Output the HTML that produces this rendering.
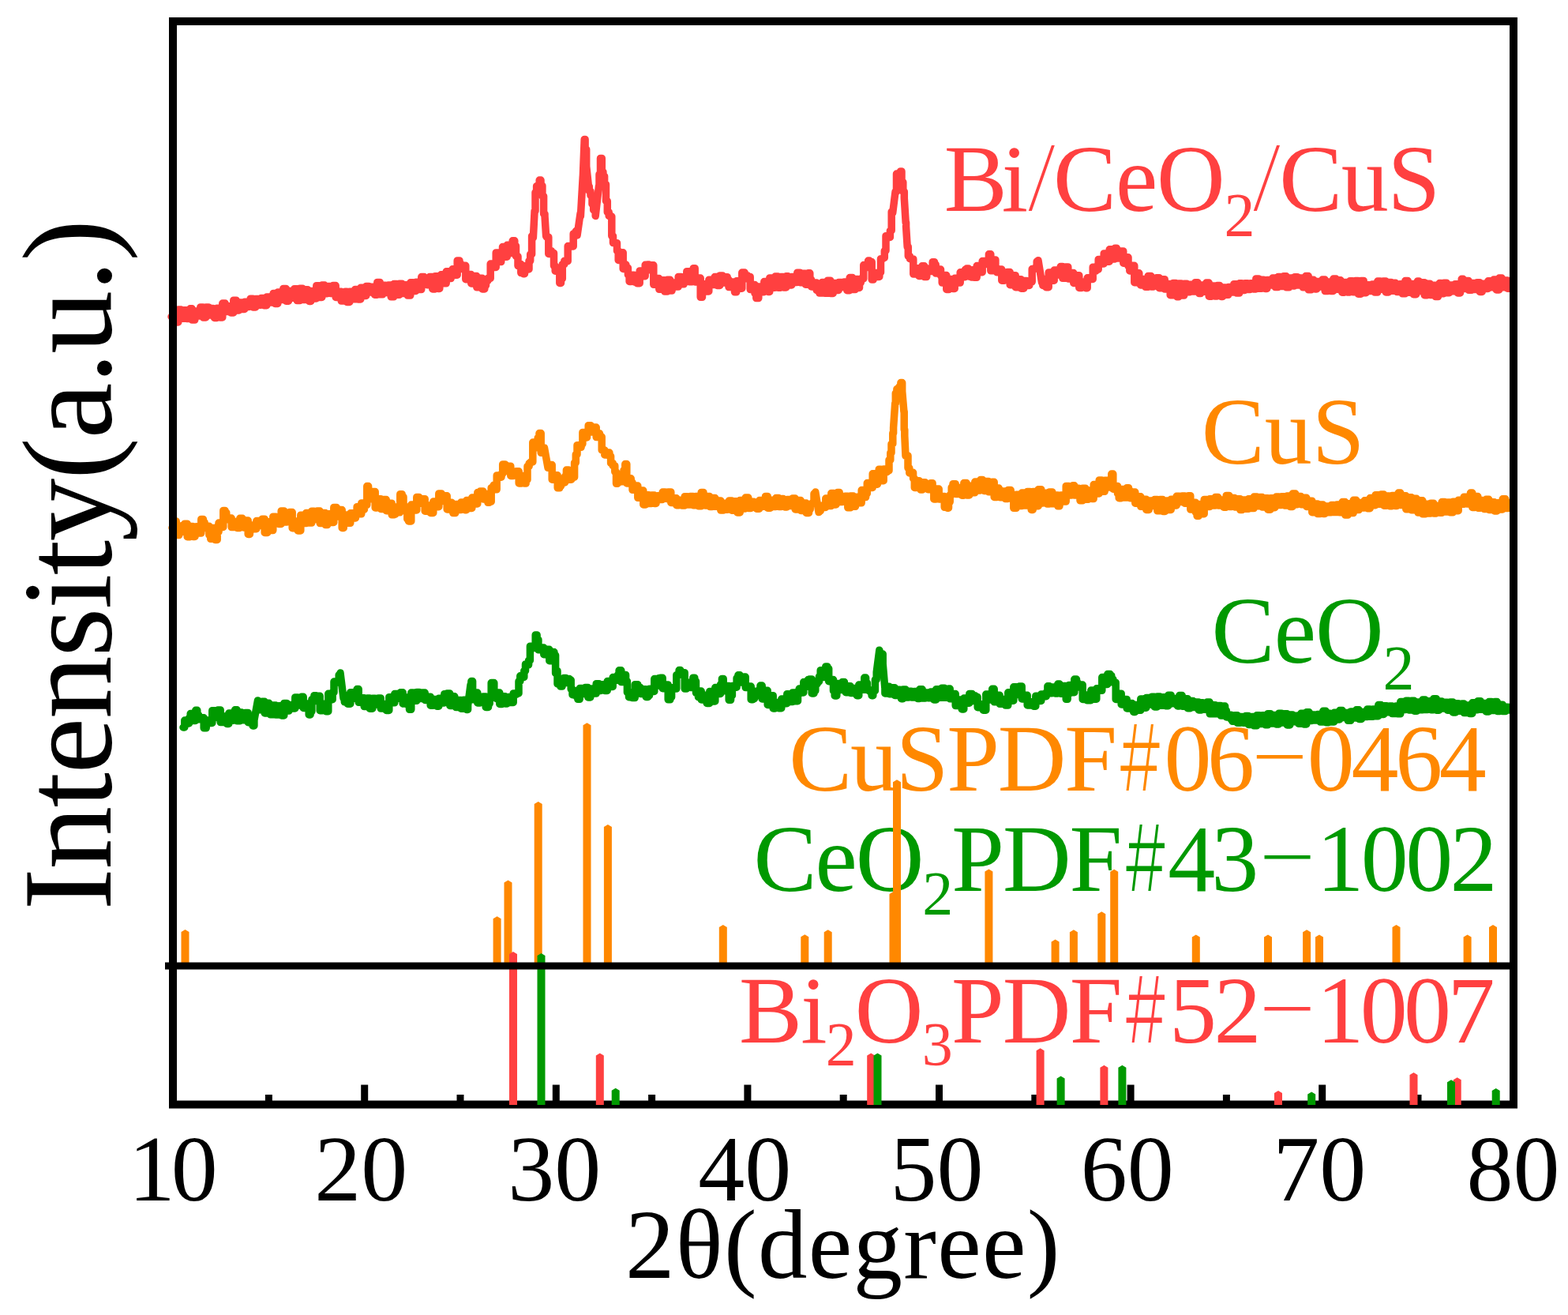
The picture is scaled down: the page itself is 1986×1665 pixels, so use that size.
<!DOCTYPE html><html><head><meta charset="utf-8"><style>html,body{margin:0;padding:0;background:#fff;overflow:hidden}svg{display:block}text{font-family:"Liberation Serif", serif}</style></head><body>
<div id="w">
<svg width="1986" height="1665" viewBox="0 0 1986 1665">
<rect width="1986" height="1665" fill="#fff"/>
<g fill="none" stroke-width="9.5" stroke-linejoin="round" stroke-linecap="round">
<path stroke="#FF4040" d="M217.0 401.0H218.8V397.0H222.2V408.0H225.8V392.0H229.2V403.3H232.8V392.7H236.2V403.5H239.0V397.7H240.8V390.8H243.2V405.1H246.8V393.9H250.2V399.9H253.8V388.9H257.2V402.0H260.8V388.9H264.2V398.9H267.8V390.5H269.8V396.0H271.5V402.5H274.8V390.2H278.2V402.0H281.8V384.1H285.2V394.5H288.8V387.8H292.2V395.9H295.8V380.2H299.2V393.0H302.8V382.9H306.2V391.4H309.8V382.3H313.2V388.4H315.5V384.0H317.2V378.2H320.2V388.9H323.8V378.4H327.2V386.2H330.8V377.5H334.2V386.7H337.8V376.0H341.2V382.9H344.5V379.6H346.2V371.4H348.2V384.4H351.8V370.1H355.2V379.5H358.8V365.4H362.2V381.2H365.5V372.0H367.2V368.6H369.2V377.3H372.8V365.7H376.2V380.6H379.8V365.2H383.2V379.6H386.8V366.8H389.8V375.0H391.5V381.5H393.8V368.4H397.2V377.9H400.8V361.7H404.2V376.5H407.8V361.0H411.2V371.8H414.0V364.5H415.8V362.4H418.2V371.5H421.8V361.5H425.2V376.4H428.8V369.2H432.2V381.1H435.5V376.6H437.2V369.3H439.2V382.4H442.8V369.3H446.2V378.8H449.8V366.4H453.2V378.9H456.8V364.3H460.2V374.4H463.8V362.4H467.2V370.1H470.8V363.2H472.8V366.0H474.5V373.2H477.8V357.4H481.2V372.8H484.8V361.3H488.2V370.4H491.8V360.9H495.2V375.8H498.8V359.5H502.2V373.3H505.8V359.2H509.2V371.6H511.5V367.5H513.2V360.7H516.2V374.1H519.8V357.8H523.2V368.5H526.8V357.3H530.2V366.6H533.8V350.5H537.2V358.0H540.8V360.7H544.2V350.4H547.8V365.9H551.2V349.7H554.8V365.4H556.8V358.0H558.5V347.8H561.8V358.8H565.2V343.8H568.8V352.6H571.2V346.0H573.0V340.8H575.8V348.2H579.2V329.9H582.0V334.0H583.8V340.4H586.2V336.3H589.8V353.7H592.8V352.0H594.5V347.5H596.8V358.9H600.2V349.5H603.8V363.8H607.2V352.2H610.8V366.0H613.8V361.5H615.5V355.7H617.8V352.4H621.2V334.1H623.5V335.0H625.2V338.5H628.2V319.9H631.8V331.6H634.8V321.0H636.5V312.5H638.8V325.2H642.2V310.3H645.0V313.0H646.8V320.6H649.2V304.8H651.8V311.4H653.5V324.5H656.0V336.6H657.8V334.4H659.8V345.6H662.7V346.7H664.5V336.8H666.8V340.9H670.0V330.3H671.7V321.9H673.6V298.8H675.4V300.4L677.1 267.2H678.0V243.6H679.6V235.7H681.4V234.3H683.2V228.0H685.0V235.0H686.9V248.3H688.6V270.8H690.0V273.5L691.6 298.8H692.3V300.2H694.8V321.4H696.6V317.7H698.4V320.4H701.5V336.6H703.2V343.2H705.2V340.5H708.8V358.5H710.5V353.0H712.3V334.7H714.8V330.3H716.5V330.7H719.2V311.5H722.1V311.4H723.9V312.0H726.2V295.9H729.4V292.5H731.1V297.9L735.0 270.6H735.4V273.5L738.3 223.0H738.4V222.1L740.2 176.4H741.1V189.1H742.7V210.5L745.5 236.2H746.3V242.0H748.0V247.4H750.0V258.4H751.7V265.9H754.2V273.5L758.5 235.7H759.0V220.7H760.5V200.4H762.3V217.5H763.9V223.0H765.6V233.4H767.5V254.6H769.3V268.7H771.2V273.5H773.0V274.0H774.8V298.8H776.5V307.6H778.8V307.7H781.5V317.7H783.2V329.5H785.8V319.8H789.2V340.4H791.1V335.0H792.9V339.2H795.4V348.0H797.1V356.5H799.8V348.2H803.2V357.0H806.8V358.7H810.2V342.9H813.8V349.7H817.2V335.3H820.2V335.0H822.0V341.7H824.2V335.8H827.8V360.3H830.5V356.6H832.3V352.5H834.8V366.3H838.2V354.7H841.8V369.1H845.2V354.3H848.8V368.1H851.1V363.2H852.9V357.9H855.8V363.1H859.2V350.4H862.8V359.8H866.2V355.1H869.8V343.7H873.2V356.8H876.5V345.0H878.2V339.7H880.2V356.9H883.8V352.1H887.2V376.3H889.5V369.5H891.2V359.7H894.2V369.0H897.8V354.3H901.2V360.6H903.5V354.6H905.2V350.5H908.2V361.4H911.8V348.9H915.2V358.1H918.8V350.7H921.2V354.0H923.0V363.6H925.8V357.0H928.8V365.0H930.5V369.8H932.8V355.8H936.2V365.2H939.8V345.1H943.2V352.8H945.5V349.0H947.2V350.4H950.2V366.6H953.8V360.4H956.0V371.5H957.8V377.6H960.8V363.0H964.2V369.7H967.8V356.6H971.0V361.6H972.8V369.5H974.8V351.9H978.2V364.2H981.8V350.0H985.2V364.2H988.8V350.4H992.2V364.0H995.8V349.8H998.1V353.6H999.9V360.9H1002.8V350.4H1006.2V357.4H1009.8V345.2H1013.2V357.7H1016.8V346.2H1020.2V360.2H1023.8V345.8H1025.8V353.8H1027.5V362.9H1030.8V357.9H1034.2V367.5H1037.8V371.1H1041.2V357.6H1044.8V371.3H1048.2V355.2H1051.8V371.4H1055.2V358.6H1058.5V361.4H1060.2V367.5H1062.2V357.6H1065.8V363.4H1069.2V356.9H1072.8V367.7H1076.2V351.5H1079.8V366.6H1083.2V353.4H1086.8V364.4H1088.5V357.8H1090.3V353.0H1093.8V335.6H1097.2V338.4H1099.6V330.0H1101.3V331.6H1104.2V354.1H1106.2V351.0H1107.9V345.4H1111.2V350.5H1113.8V345.0H1115.5V327.7H1118.2V326.5H1120.3V317.5H1122.0V298.7H1125.2V300.4H1127.4V292.0H1129.2V268.0H1130.7V269.5L1134.0 243.0H1135.5V220.0H1137.2V228.0H1138.8V222.0H1140.5V216.9H1142.0V230.6H1143.8V242.6H1145.3V251.0L1147.2 281.7H1147.6V287.1L1149.2 312.4H1150.3V324.3H1152.4V327.7H1154.2V327.9H1156.8V347.1H1159.0V341.0H1160.8V339.8H1163.8V349.4H1166.0V346.0H1167.8V336.8H1170.8V350.6H1173.7V345.0H1175.4V340.2H1177.8V343.5H1181.2V331.7H1183.5V334.8H1185.2V346.1H1188.2V341.0H1191.5V349.1H1193.2V358.1H1195.2V348.6H1198.8V366.5H1202.2V353.4H1204.7V363.4H1206.5V365.4H1209.2V352.3H1212.8V358.1H1216.2V344.8H1219.8V350.7H1222.5V341.3H1224.3V340.0H1226.8V350.0H1230.0V351.0H1231.8V341.7H1233.8V351.3H1237.2V336.5H1240.8V344.7H1244.2V330.6H1247.8V334.6H1250.7V329.0H1252.4V321.8H1254.8V342.8H1258.2V328.9H1260.9V339.6H1262.7V344.8H1265.2V341.0H1268.8V355.2H1272.2V352.3H1275.8V344.6H1279.2V360.7H1282.8V348.7H1286.2V363.7H1289.8V353.7H1293.2V365.2H1296.8V355.6H1300.2V361.4H1303.8V356.8H1307.2V340.5H1310.8V339.3H1313.2V331.0H1315.0V329.7L1319.5 357.4H1320.8V361.4H1322.5V353.6H1324.8V363.7H1328.2V344.9H1331.8V355.2H1335.2V342.0H1338.8V347.9H1341.5V341.3H1343.2V337.5H1345.8V352.3H1349.2V337.9H1352.8V352.9H1356.2V345.5H1359.8V358.4H1362.0V352.9H1363.8V348.7H1366.8V364.5H1370.2V356.9H1373.3V363.4H1375.0V364.7H1377.2V351.8H1380.8V353.4H1384.2V338.2H1386.3V343.2H1388.1V341.2H1391.2V328.4H1393.9V328.2H1395.7V334.0H1398.2V320.9H1401.8V331.2H1405.2V315.8H1408.8V327.9H1412.2V314.2H1414.3V317.5H1416.0V327.0H1419.2V317.9H1422.8V333.2H1426.2V325.8H1429.0V337.0H1430.8V342.9H1433.2V336.3H1436.8V357.7H1440.2V345.8H1442.8V356.0H1444.6V361.0H1447.2V353.5H1450.8V363.3H1454.2V349.4H1457.8V363.0H1461.2V359.0H1464.8V351.7H1468.2V364.7H1471.8V353.7H1475.2V366.1H1478.8V359.6H1482.2V373.7H1485.8V358.6H1489.2V367.4H1490.9V375.8H1492.8V359.0H1496.2V374.1H1499.8V359.3H1503.2V369.8H1506.8V360.2H1510.2V369.0H1513.8V357.7H1517.0V364.6H1518.8V371.6H1520.8V361.1H1524.2V369.2H1527.8V358.0H1531.2V375.2H1534.8V362.0H1538.2V374.9H1541.8V361.4H1544.8V370.0H1546.5V375.4H1548.8V363.9H1552.2V373.3H1555.8V363.5H1559.2V370.0H1562.8V359.7H1566.2V371.1H1569.8V358.8H1572.8V364.6H1574.5V367.5H1576.8V358.7H1580.2V366.5H1583.8V358.8H1587.2V365.9H1590.8V352.9H1594.2V365.3H1597.8V354.2H1600.5V359.0H1602.2V365.4H1604.8V354.4H1608.2V361.0H1611.8V352.0H1615.2V363.6H1618.8V350.6H1622.2V362.6H1625.8V349.8H1629.2V363.8H1632.8V352.0H1636.0V356.0H1637.8V361.9H1639.8V350.7H1643.2V360.9H1646.8V351.9H1650.2V363.8H1653.8V349.5H1657.2V366.8H1660.8V354.3H1663.8V359.0H1665.5V365.9H1667.8V356.4H1671.2V362.9H1674.8V354.1H1678.2V368.6H1681.8V357.0H1685.2V368.5H1688.8V353.0H1692.2V366.3H1695.8V354.8H1698.0V362.0H1699.8V370.2H1702.8V357.4H1706.2V369.9H1709.8V355.7H1713.2V369.7H1716.8V355.5H1720.2V372.2H1723.8V355.4H1727.2V370.7H1730.3V364.6H1732.1V360.7H1734.2V368.6H1737.8V360.0H1741.2V370.1H1744.8V356.1H1748.2V366.3H1751.8V356.0H1755.2V370.0H1758.8V357.6H1762.2V368.2H1765.8V358.3H1767.6V362.0H1769.3V369.6H1772.8V359.7H1776.2V371.8H1779.8V355.5H1783.2V370.3H1786.8V359.6H1790.2V372.7H1793.7V364.6H1795.5V355.9H1797.2V368.5H1800.8V357.7H1804.2V373.7H1807.8V359.2H1811.2V373.5H1814.8V361.2H1818.2V375.6H1821.5V367.4H1823.2V358.5H1825.2V371.7H1828.8V358.2H1832.2V370.7H1835.8V360.9H1839.2V368.7H1842.8V359.8H1846.2V371.0H1849.5V362.0H1851.2V353.3H1853.2V365.5H1856.8V355.5H1860.2V367.3H1863.8V358.6H1867.2V366.6H1870.8V357.7H1874.2V369.4H1877.2V362.0H1879.0V359.2H1881.2V365.5H1884.8V355.8H1888.2V363.8H1891.8V354.0H1895.2V366.9H1898.8V352.1H1902.2V363.7H1905.8V354.9H1909.2V365.2H1911.5V359.0H1912.0"/>
<path stroke="#FF8800" d="M218.0 668.3H219.8V659.9H223.2V677.6H226.8V666.1H229.2V669.3H231.0V673.2H233.8V663.2H237.2V679.7H240.8V666.6H244.2V679.4H247.0V675.4H248.8V666.8H251.2V675.1H254.8V657.4H257.4V661.3H259.1V668.4H261.8V666.2H264.9V677.4H266.7V682.3H268.8V668.5H272.2V683.4H275.2V673.4H277.0V662.0H279.2V667.4H282.8V646.4H285.0V649.2H286.8V657.7H289.8V656.1H293.2V667.6H295.8V667.3H297.6V660.4H300.2V668.4H303.8V656.3H307.1V659.3H308.9V668.1H310.8V659.0H314.2V676.5H316.4V671.3H318.1V665.1H321.2V669.7H324.8V659.6H328.2V665.4H330.4V661.3H332.1V657.2H335.2V674.4H338.8V660.7H341.8V669.3H343.5V671.6H345.8V654.2H349.2V657.2H352.8V663.4H356.2V646.9H359.8V661.1H363.2V651.2H366.8V648.6H370.2V668.7H373.5V665.3H375.2V660.1H377.2V671.9H380.8V652.2H384.2V662.6H387.8V649.4H391.2V662.1H394.8V647.2H397.9V651.2H399.6V657.5H401.8V647.0H405.2V662.6H408.8V649.5H412.2V664.6H414.7V657.2H416.4V650.8H419.2V661.5H422.8V642.4H426.2V653.9H428.8V647.2H430.5V645.5H433.2V668.4H435.3V661.3H437.1V651.9H440.2V662.3H443.8V649.8H447.2V656.0H450.4V649.2H452.1V641.7H454.2V650.8H457.8V636.9H459.6V645.2H461.4V639.3H464.8V615.5H466.6V623.0H468.4V631.7H471.8V622.6H475.2V642.9H477.5V637.0H479.2V631.7H482.2V644.5H485.8V632.6H489.2V646.7H492.5V641.0H494.2V637.2H496.2V651.8H499.0V651.2H500.8V641.9H503.2V648.7H506.8V625.7H509.2V629.0H511.0V641.6H513.8V647.0H515.8V657.2H517.5V659.9H520.8V639.0H524.2V646.0H527.8V629.4H530.8V633.0H532.5V637.3H534.8V631.7H538.2V647.2H541.0V645.2H542.8V639.9H545.2V649.5H548.8V635.1H552.2V641.7H555.8V624.9H559.2V634.4H561.8V629.0H563.5V627.8H566.2V644.9H569.8V636.2H572.0V643.0H573.8V649.6H576.8V638.6H580.2V645.6H583.8V636.0H587.0V639.0H588.8V645.7H590.8V633.6H594.2V643.5H597.8V630.0H601.1V631.0H602.9V638.0H604.8V623.5H608.2V621.9H611.8V631.9H615.2V625.5H617.9V636.3H619.6V635.2H622.2V617.7H625.3V614.2H627.0V619.8H629.2V601.9H632.8V604.2H635.0V599.8H636.7V587.9H639.8V596.5H642.4V590.9H644.1V590.2H646.8V602.5H650.2V602.0H653.8V596.8H657.2V612.0H660.8V602.6H664.2V612.1H666.2V607.5H668.0V590.3H670.2V586.5H672.0V585.0H674.8V560.1H677.0V564.3H678.8V566.7H681.2V554.3H683.0V548.5H685.2V573.3H687.8V569.9H689.5V567.1L694.0 592.2H694.6V588.7H696.4V588.6H699.2V607.2H701.5V605.3H703.2V601.8H706.2V617.8H708.9V615.3H710.6V608.6H713.2V610.9H715.6V603.0H717.4V595.1H720.2V607.2H723.8V597.7H725.9V604.2H727.6V585.8H729.3V575.4H731.0V563.7H734.2V566.3H736.1V562.1H737.9V547.4H741.2V553.9H743.5V547.7H745.2V538.7H748.2V547.0H750.4V541.0H752.1V541.0H755.2V553.6H757.7V548.8H759.5V553.1H762.2V569.9H765.8V576.0H769.2V573.1H771.9V577.6H773.6V586.4H776.2V589.7H778.8V597.5H780.5V612.3H782.1V610.8H783.9V601.0H786.8V609.7H790.0V595.3H791.8V587.5H793.8V612.0H797.2V605.8H799.2V610.8H801.0V620.3H804.2V615.1H807.8V630.3H810.0V625.2H811.8V621.1H814.8V639.0H817.9V634.1H819.6V626.8H821.8V637.5H825.2V627.0H828.8V637.5H831.0V631.3H832.8V627.8H835.8V632.4H839.2V623.1H842.4V627.5H844.1V631.4H846.2V622.9H849.8V636.5H851.6V632.5H853.4V630.8H856.8V639.7H860.1V637.5H861.9V633.3H863.8V640.1H867.2V628.7H870.5V633.5H872.2V639.1H874.2V628.5H877.8V639.7H881.2V628.6H884.8V640.8H888.2V623.4H891.0V632.0H892.8V639.9H895.2V628.6H898.8V641.4H902.2V630.5H905.8V641.3H907.8V638.5H909.5V633.9H912.8V646.1H916.2V637.2H919.8V645.2H921.8V642.0H923.5V633.9H926.8V646.2H930.2V634.8H933.8V648.9H937.2V633.4H940.7V639.5H942.5V644.0H944.2V630.1H947.8V643.5H951.2V635.2H954.8V637.5H958.2V644.2H961.8V633.6H965.2V641.3H967.8V636.5H969.5V628.4H972.2V643.2H975.8V633.3H979.2V641.5H982.8V630.6H986.2V641.5H989.8V631.5H992.1V635.5H993.9V642.0H996.8V632.6H1000.2V640.5H1003.8V631.1H1007.2V644.9H1010.5V636.5H1012.2V633.6H1014.2V646.4H1017.8V637.1H1021.2V649.5H1024.5V645.0H1026.2V638.2H1028.2V637.3H1031.0V625.0H1032.8V623.1L1037.0 648.5H1037.5V647.0H1039.2V640.2H1042.2V642.4H1045.8V631.0H1047.8V633.5H1049.5V640.6H1052.8V624.6H1056.2V638.9H1059.0V629.5H1060.8V623.4H1063.2V635.6H1066.8V635.0H1070.2V628.3H1073.8V642.8H1077.2V628.1H1080.8V641.3H1083.5V635.5H1085.3V629.3H1087.8V636.8H1091.2V620.5H1094.8V629.6H1096.6V625.0H1098.3V611.5H1101.0V613.0H1102.8V617.4H1105.2V599.8H1108.8V613.2H1111.4V603.8H1113.2V594.2H1115.8V608.7H1119.2V594.0H1121.8V597.7H1123.5V595.9H1126.0V582.4H1127.8V573.4H1129.0V562.0H1130.8V548.4H1131.6V541.5L1133.7 510.9H1134.3V497.8H1135.9V492.5H1137.7V497.7H1139.2V489.4H1140.9V484.6H1142.7V495.5L1144.9 521.0H1145.2V544.1H1145.8V551.7L1147.0 577.3H1148.0V576.9H1150.0V592.6H1151.8V599.0H1154.2V598.3H1156.6V605.9H1158.3V617.4H1161.2V608.7H1164.2V615.0H1166.0V620.1H1168.2V610.7H1171.8V613.0H1175.2V619.7H1178.8V611.7H1181.1V621.2H1182.8V631.9H1185.8V619.0H1189.2V632.0H1191.5V629.3H1193.2V628.4H1196.2V642.3H1199.7V643.2H1201.5V635.6H1203.2V626.6H1205.2V617.0H1207.0V612.7H1210.2V625.5H1213.8V617.4H1216.5V621.5H1218.2V627.2H1220.8V611.6H1224.2V626.9H1227.8V615.2H1229.5V618.5H1231.3V623.8H1234.8V610.0H1238.2V620.9H1241.8V607.6H1244.6V615.5H1246.3V621.4H1248.8V609.6H1252.2V622.8H1254.9V618.0H1256.7V610.3H1259.2V629.5H1262.8V618.1H1265.2V625.5H1267.0V629.8H1269.8V621.9H1273.2V631.5H1276.8V620.5H1280.2V631.0H1283.8V643.3H1287.2V626.2H1290.5V632.0H1292.2V640.6H1294.2V624.0H1297.8V640.1H1301.2V622.4H1304.5V633.0H1306.2V645.4H1308.2V622.4H1311.8V640.7H1315.2V619.7H1318.8V636.9H1321.2V632.0H1323.0V624.2H1325.8V637.9H1329.2V622.9H1332.8V637.8H1335.2V629.5H1337.0V627.1H1339.8V640.8H1342.0V635.0H1343.7V626.9H1346.8V635.1H1350.2V615.4H1353.8V627.1H1357.0V617.0H1358.8V614.8H1360.8V627.1H1364.2V618.2H1366.3V626.0H1368.0V633.8H1371.2V618.2H1374.8V632.3H1378.2V621.1H1381.3V623.5H1383.1V631.6H1385.2V613.5H1388.8V625.0H1392.2V607.9H1395.4V614.5H1397.2V622.3H1399.2V608.3H1402.8V617.0H1406.1V607.0H1407.8V600.1H1409.8V619.2H1413.2V615.4H1415.5V625.0H1417.2V630.7H1420.2V619.4H1423.8V630.1H1427.2V617.7H1429.5V621.0H1431.2V630.7H1434.2V623.1H1437.8V637.2H1440.2V634.8H1442.0V628.8H1444.8V641.3H1448.2V632.2H1451.8V645.5H1455.2V634.1H1458.8V640.5H1462.2V632.6H1465.8V646.8H1469.2V632.5H1472.8V647.4H1475.8V640.3H1477.5V634.1H1479.8V645.4H1483.2V632.2H1486.8V640.0H1490.2V628.3H1493.8V635.6H1497.2V628.1H1500.8V637.3H1503.5V629.0H1505.3V627.7H1507.8V645.1H1511.2V636.2H1514.3V648.6H1516.1V653.3H1518.2V638.6H1521.8V650.7H1525.2V632.4H1528.8V641.6H1532.2V631.8H1534.5V634.8H1536.2V640.1H1539.2V629.6H1542.8V640.0H1546.2V632.9H1549.8V642.2H1553.2V627.4H1556.8V641.4H1560.2V630.6H1563.8V642.0H1567.2V631.7H1570.8V645.6H1573.2V637.5H1575.0V632.9H1577.8V644.3H1581.2V631.8H1584.8V643.6H1588.2V629.0H1591.8V640.7H1595.2V629.6H1598.8V642.1H1602.2V630.7H1605.8V645.2H1609.2V630.7H1612.8V642.7H1614.8V637.5H1616.5V628.9H1619.8V639.5H1623.2V628.8H1626.8V640.0H1630.2V628.1H1633.8V641.5H1637.2V625.1H1640.8V638.8H1642.8V632.0H1644.5V628.5H1647.8V638.7H1651.2V630.3H1654.8V641.4H1658.2V634.2H1661.8V648.7H1665.2V637.9H1668.8V650.6H1672.2V639.0H1675.8V650.4H1678.2V646.0H1680.0V641.1H1682.8V648.7H1686.2V639.6H1689.8V648.6H1693.2V639.1H1696.8V648.8H1700.2V635.6H1703.8V652.1H1707.2V637.8H1710.5V643.0H1712.2V649.6H1714.2V633.3H1717.8V645.6H1721.2V636.5H1724.8V643.0H1728.2V633.8H1731.8V643.7H1735.2V630.6H1738.5V634.8H1740.2V639.7H1742.2V626.7H1745.8V638.3H1749.2V626.0H1752.8V640.2H1756.2V627.9H1759.8V640.7H1763.2V627.6H1766.8V640.4H1769.5V632.0H1771.2V624.0H1773.8V639.5H1777.2V627.8H1780.8V644.7H1784.2V629.8H1787.8V645.8H1791.2V631.3H1794.2V640.3H1796.0V649.1H1798.2V633.8H1801.8V650.8H1805.2V638.2H1808.8V650.0H1812.2V637.2H1815.8V649.9H1819.2V640.4H1822.0V646.0H1823.8V649.3H1826.2V635.5H1829.8V647.9H1833.2V636.0H1836.8V648.8H1840.2V635.3H1843.8V646.7H1847.2V633.2H1850.8V638.3H1854.2V629.2H1857.8V637.9H1860.8V632.0H1862.5V624.0H1864.8V642.5H1868.2V628.5H1871.8V643.2H1875.2V633.4H1877.8V640.3H1879.5V644.5H1882.2V632.3H1885.8V645.5H1889.2V635.8H1892.8V647.0H1896.2V636.7H1899.8V645.0H1903.2V631.8H1906.8V643.6H1910.2V636.7H1912.5V640.3H1913.0"/>
<path stroke="#009900" d="M232.0 921.0H233.8V912.0H237.2V915.9H239.5V909.0H241.2V903.5H244.2V912.4H247.8V899.3H249.8V905.0H251.5V910.7H254.8V908.8H258.2V921.8H261.2V917.0H262.9V911.9H265.2V915.4H268.8V899.7H272.2V908.6H274.2V903.0H276.0V898.9H279.2V914.6H282.8V907.0H285.5V915.0H287.2V916.5H289.8V903.1H293.2V912.2H295.8V903.0H297.6V898.8H300.2V912.8H303.8V902.1H306.1V909.0H307.9V911.8H310.8V902.4H314.2V914.7H316.4V909.0H318.1V911.7H320.1V919.0H321.9V912.0L326.5 886.9H326.6V892.8H328.4V898.7H331.8V888.3H335.2V903.0H338.8V890.3H340.8V896.8H342.5V904.8H345.8V893.1H349.2V905.1H352.8V893.8H354.8V898.8H356.5V905.9H359.8V890.4H363.2V900.1H366.0V896.8H367.8V892.6H370.2V896.9H373.8V882.9H377.2V893.1H380.1V886.7H381.9V882.3H384.2V896.4H387.8V891.1H391.2V905.0H393.1V900.8H394.9V885.7H397.9V880.7H399.6V887.4H401.8V881.3H405.2V899.7H408.8V891.2H410.9V898.8H412.7V900.7H415.8V878.3H419.2V885.7H421.2V876.7H423.0V863.1H426.2V864.0H429.2V854.5H431.0V852.1L435.0 884.0H436.3V888.8H438.1V880.7H440.2V891.2H443.8V876.7H447.2V884.2H450.4V878.7H452.1V872.6H454.2V889.3H457.8V883.8H461.2V894.6H463.4V892.8H465.1V884.1H468.2V897.2H471.8V884.3H475.2V892.1H477.4V884.7H479.2V883.9H482.2V897.1H485.0V896.8H486.8V891.5H489.2V899.5H492.8V882.7H496.2V889.8H499.8V878.5H503.2V884.2H505.5V880.7H507.2V876.8H510.2V891.0H513.8V882.9H516.8V892.8H518.5V898.3H520.8V877.0H523.2V878.7H525.0V887.3H527.8V876.4H531.2V884.5H534.8V877.0H538.2V886.5H541.1V884.7H542.9V882.2H545.2V893.2H548.8V885.5H551.5V892.8H553.2V894.2H555.8V884.2H559.2V890.0H562.8V878.7H566.2V878.0H569.8V893.5H573.2V881.8H575.8V890.8H577.5V895.6H580.2V886.5H583.8V897.2H587.2V886.3H590.8V898.5H592.6V892.8L596.0 867.3H596.9V862.6H598.6V885.8H599.8V884.7H601.5V877.0H604.8V889.9H608.2V884.7H611.8V882.0H615.2V895.4H618.5V890.8H620.2V883.8H622.2V864.6H625.8V880.4H628.8V884.7H630.5V877.1H632.8V891.5H636.2V881.8H639.8V890.9H642.4V889.0H644.1V882.6H646.8V889.5H650.2V877.9H652.6V879.2H654.4V877.9H657.0V862.7H658.8V855.8H660.8V857.4H663.8V849.4H665.5V840.9H667.8V841.8H669.6V836.2H671.4V818.2H673.6V819.7H675.4V820.4H678.2V803.9H680.1V809.8H681.9V822.8H684.9V821.7H686.6V820.0H688.8V828.7H691.6V828.3H693.4V822.3H695.8V836.7H699.2V825.6H701.9V829.6H703.6V852.4H704.6V849.4H706.0V866.0H707.7V860.1H709.8V869.1H712.1V864.6H713.9V858.5H716.8V864.6H719.2V859.4H721.0V861.0H723.2V872.6H725.0V879.7H727.2V874.8H730.0V881.8H731.8V885.3H734.2V871.5H737.5V875.9H739.3V878.5H741.2V870.6H744.8V883.0H747.8V876.7H749.5V872.1H751.8V878.1H755.2V865.7H758.8V874.6H760.8V870.6H762.5V866.7H765.8V874.4H769.2V862.6H772.0V868.6H773.8V869.5H776.2V857.6H779.8V861.2H782.4V854.5H784.1V848.8H786.8V863.6H790.2V854.4H792.6V862.6H794.4V876.7H796.5V882.7H798.2V876.8H800.8V883.6H804.2V866.7H807.8V870.6H811.2V878.5H814.8V872.8H818.2V882.5H820.8V880.7H822.5V872.2H825.2V875.5H828.8V859.6H832.2V868.1H834.8V858.5H836.5V858.3H839.2V871.7H842.8V866.9H846.2V885.8H848.9V882.7H850.6V870.7H853.2V872.1H856.8V854.7H860.1V848.5H861.9V853.1H863.8V851.7H867.2V872.1H869.5V870.6H871.2V864.2H874.2V870.5H877.8V858.2H879.8V862.6H881.5V877.3H884.5V882.7H886.2V875.1H888.2V886.0H891.8V880.3H895.2V890.4H898.8V875.4H901.2V882.7H903.0V888.0H905.8V870.6H909.2V878.5H912.6V866.6H914.4V859.4H916.2V874.7H919.8V868.5H923.2V886.3H925.6V880.7H927.4V868.5H930.2V870.2H933.1V858.5H934.9V854.8H937.2V864.0H940.7V860.6H942.5V857.1H944.2V870.6H947.8V869.0H951.2V885.7H953.8V884.7H955.5V875.3H958.2V880.5H961.2V874.7H963.0V868.1H965.2V885.0H968.8V874.3H972.2V892.4H975.8V880.7H979.2V896.9H981.9V892.8H983.6V889.4H986.2V896.7H989.8V885.0H993.2V890.7H996.8V878.7H998.6V884.7H1000.4V888.6H1003.8V876.9H1007.2V887.7H1010.5V878.7H1012.2V872.1H1014.2V877.0H1017.8V863.6H1021.2V869.3H1023.5V860.6H1025.2V859.9H1028.2V878.0H1031.0V874.7H1032.8V865.8H1035.2V863.0H1037.5V856.5H1039.2V848.7H1042.2V857.6H1045.8V843.9H1047.9V846.5H1049.7V862.7H1052.8V860.5H1055.5V874.7H1057.2V880.9H1059.8V865.5H1063.2V873.4H1066.8V863.5H1069.5V868.6H1071.2V876.7H1073.8V868.8H1077.2V877.4H1080.8V871.6H1083.5V876.7H1085.3V880.7H1087.8V867.0H1091.2V873.3H1094.8V858.1H1096.6V864.6H1098.3V873.7H1101.8V875.6H1104.1V880.7H1105.8V874.7H1108.4V860.6H1110.2V851.0L1113.8 823.3H1113.9V826.8H1115.8V828.1H1118.2V840.4L1120.8 870.6H1120.9V877.9H1122.8V869.2H1126.2V878.7H1129.8V870.7H1133.2V880.5H1136.8V873.3H1139.8V878.7H1141.5V884.7H1143.8V873.0H1147.2V883.1H1150.8V875.2H1154.2V882.9H1157.8V875.6H1160.2V878.7H1162.0V884.4H1164.8V872.8H1168.2V884.1H1171.8V877.1H1175.2V883.7H1178.8V876.1H1180.9V880.7H1182.7V885.9H1185.8V872.7H1189.2V883.3H1192.8V871.2H1196.2V883.3H1199.7V876.7H1201.5V872.0H1203.2V884.8H1206.8V878.6H1210.2V893.6H1213.8V886.0H1216.5V892.8H1218.2V898.0H1220.8V884.1H1224.2V890.2H1227.8V878.4H1231.2V887.4H1233.3V880.7H1235.0V882.5H1238.2V895.7H1241.8V891.7H1243.6V896.8H1245.3V899.2H1248.8V879.0H1252.2V885.9H1254.9V878.7H1256.7V872.3H1259.2V888.8H1262.8V880.3H1266.2V891.3H1269.8V885.4H1271.8V888.8H1273.5V893.1H1276.8V876.8H1280.2V887.2H1283.8V869.8H1287.2V879.6H1289.5V872.6H1291.2V868.9H1294.2V884.9H1297.8V880.3H1301.2V892.9H1304.8V888.7H1307.2V892.8H1309.0V894.2H1311.8V881.2H1315.2V887.5H1318.8V878.9H1322.2V881.7H1325.2V876.7H1326.9V868.8H1329.2V877.7H1332.8V870.0H1336.2V877.9H1339.8V866.0H1342.0V868.6H1343.7V878.3H1346.8V868.5H1350.2V885.3H1352.2V878.7H1354.0V867.4H1357.2V876.7H1360.8V860.1H1363.5V864.6H1365.2V869.9H1367.8V867.0H1371.2V885.4H1374.8V880.1H1376.5V886.7H1378.3V886.7H1381.8V874.1H1385.2V885.2H1388.8V871.8H1391.6V872.6H1393.3V874.3H1395.8V857.6H1398.2V860.6H1399.9V866.4H1402.8V853.5H1406.1V855.4H1407.8V859.8H1409.8V864.2H1413.2V885.5H1415.5V883.0H1417.2V878.2H1420.2V891.9H1423.8V885.4H1427.2V897.0H1430.8V890.5H1434.0V897.0H1435.7V901.5H1437.8V892.6H1441.2V899.3H1444.8V884.9H1448.2V896.2H1451.8V883.5H1455.2V892.1H1457.2V888.6H1459.0V882.2H1462.2V895.0H1465.8V882.0H1469.2V893.3H1472.8V882.8H1476.2V893.7H1479.8V880.2H1483.2V890.7H1486.8V884.4H1489.7V887.2H1491.4V894.0H1493.8V880.6H1497.2V894.2H1500.8V884.7H1504.2V896.7H1507.8V887.6H1511.2V895.6H1514.8V888.9H1518.2V898.9H1521.8V889.7H1523.8V894.0H1525.5V898.3H1528.8V889.1H1532.2V903.8H1535.8V892.7H1539.2V903.8H1542.8V893.5H1546.2V906.1H1549.8V894.0H1551.6V899.7H1553.3V908.0H1556.8V905.2H1559.2V910.8H1561.0V913.3H1563.8V905.7H1567.2V915.3H1570.8V907.4H1574.2V915.2H1577.8V906.6H1581.2V917.5H1584.8V907.6H1588.2V918.8H1591.8V905.7H1595.2V916.6H1598.8V905.8H1601.0V910.8H1602.8V917.8H1605.8V903.7H1609.2V916.1H1612.8V905.5H1616.2V916.9H1619.8V903.2H1623.2V915.0H1626.8V903.8H1630.2V918.0H1633.8V905.1H1637.2V913.8H1640.8V906.3H1642.8V910.0H1644.5V916.2H1647.8V903.3H1651.2V917.0H1654.8V901.8H1658.2V912.5H1661.8V905.1H1665.2V912.1H1668.8V904.6H1672.2V914.1H1675.8V900.3H1679.2V914.7H1682.8V903.2H1684.5V907.0H1686.3V914.0H1689.8V902.3H1693.2V911.0H1696.8V899.5H1700.2V908.6H1703.8V902.6H1707.2V912.3H1710.8V900.9H1714.2V909.1H1717.8V898.8H1721.2V910.4H1724.5V904.0H1726.2V901.5H1728.2V907.6H1731.8V897.9H1735.2V907.3H1738.8V898.0H1742.2V906.7H1745.8V892.6H1749.2V904.4H1752.8V893.8H1756.2V901.7H1759.8V894.1H1763.2V903.6H1766.3V897.0H1768.1V893.9H1770.2V903.8H1773.8V888.5H1777.2V898.4H1780.8V887.3H1784.2V899.0H1787.8V887.3H1791.2V900.2H1794.8V889.0H1798.2V898.8H1801.8V886.1H1805.2V898.6H1808.0V891.4H1809.8V887.7H1812.2V898.7H1815.8V884.7H1819.2V899.2H1822.8V888.1H1826.2V897.0H1829.8V889.2H1833.2V899.2H1836.8V888.9H1840.2V902.0H1843.8V890.7H1847.2V900.2H1850.0V897.0H1851.8V890.9H1854.2V902.6H1857.8V893.0H1861.2V903.5H1864.8V889.8H1868.2V898.7H1871.8V887.7H1875.2V898.3H1878.8V890.6H1882.2V901.0H1885.8V888.6H1889.2V899.6H1891.7V894.0H1893.4V888.5H1896.2V900.4H1899.8V892.2H1903.2V900.6H1906.8V895.3H1910.2V899.0H1912.0"/>
</g>
<text x="162.8" y="1519.5" font-size="118">1<tspan dx="-5">0</tspan></text>
<text x="457.2" y="1519.5" font-size="118" text-anchor="middle">20</text>
<text x="702.2" y="1519.5" font-size="118" text-anchor="middle">30</text>
<text x="943.2" y="1519.5" font-size="118" text-anchor="middle">40</text>
<text x="1186.6" y="1519.5" font-size="118" text-anchor="middle">50</text>
<text x="1427.8" y="1519.5" font-size="118" text-anchor="middle">60</text>
<text x="1671.3" y="1519.5" font-size="118" text-anchor="middle">70</text>
<text x="1916.4" y="1519.5" font-size="118" text-anchor="middle">80</text>
<text x="792" y="1617.5" font-size="125" letter-spacing="1.3">2θ(degree)</text>
<text transform="translate(140 1152.5) rotate(-90)" font-size="160" letter-spacing="-1.62">Intensity(a.u.)</text>
<text x="1521.8" y="586.7" font-size="120" fill="#FF8800" letter-spacing="0.00">CuS</text>
<text x="1534.6" y="838.6" font-size="120" fill="#009900" letter-spacing="-1.00">CeO<tspan font-size="80" dy="34.5">2</tspan><tspan dy="-34.5"></tspan></text>
<text x="1195.8" y="266.6" font-size="120" fill="#FF4040" letter-spacing="-7">Bi</text>
<text transform="translate(1302.50 251.73) scale(0.841 0.740)" style='font-family:"Noto Serif CJK SC", "Liberation Serif", serif;font-weight:200' font-size="120" fill="#FF4040">/</text>
<text x="1334.08" y="266.6" font-size="120" fill="#FF4040" letter-spacing="-1.212">CeO<tspan font-size="78" dy="31.3">2</tspan><tspan dy="-31.3"></tspan></text>
<text transform="translate(1587.50 251.73) scale(0.846 0.740)" style='font-family:"Noto Serif CJK SC", "Liberation Serif", serif;font-weight:200' font-size="120" fill="#FF4040">/</text>
<text x="1620.28" y="266.6" font-size="120" fill="#FF4040" letter-spacing="-1.457">CuS</text>
<text x="999.28" y="1001.0" font-size="120" fill="#FF8800" letter-spacing="-2.251">CuSPDF</text>
<text transform="translate(1417.09 1001.0) scale(0.804 1)" style='font-family:"Noto Serif CJK SC", "Liberation Serif", serif;font-weight:200' font-size="120" fill="#FF8800">#</text>
<text x="1474.53" y="1001.0" font-size="120" fill="#FF8800" letter-spacing="-5.555">06</text>
<text transform="translate(1587.32 1001.0) scale(0.978 1)" style='font-family:"Noto Serif CJK SC", "Liberation Serif", serif;font-weight:200' font-size="120" fill="#FF8800">−</text>
<text x="1655.83" y="1001.0" font-size="120" fill="#FF8800" letter-spacing="-4.318">0464</text>
<text x="954.38" y="1128.0" font-size="120" fill="#009900" letter-spacing="-2.023">CeO<tspan font-size="78" dy="28.6">2</tspan><tspan dy="-28.6">PDF</tspan></text>
<text transform="translate(1424.32 1128.0) scale(0.792 1)" style='font-family:"Noto Serif CJK SC", "Liberation Serif", serif;font-weight:200' font-size="120" fill="#009900">#</text>
<text x="1479.16" y="1128.0" font-size="120" fill="#009900" letter-spacing="-4.969">43</text>
<text transform="translate(1597.02 1128.0) scale(0.978 1)" style='font-family:"Noto Serif CJK SC", "Liberation Serif", serif;font-weight:200' font-size="120" fill="#009900">−</text>
<text x="1667.45" y="1128.0" font-size="120" fill="#009900" letter-spacing="-3.611">1002</text>
<text x="935.94" y="1319.6" font-size="120" fill="#FF4040" letter-spacing="-1.826">Bi<tspan font-size="78" dy="28.0">2</tspan><tspan dy="-28.0">O<tspan font-size="78" dy="28.0">3</tspan><tspan dy="-28.0">PDF</tspan></tspan></text>
<text transform="translate(1424.32 1319.6) scale(0.792 1)" style='font-family:"Noto Serif CJK SC", "Liberation Serif", serif;font-weight:200' font-size="120" fill="#FF4040">#</text>
<text x="1481.03" y="1319.6" font-size="120" fill="#FF4040" letter-spacing="-3.406">52</text>
<text transform="translate(1597.02 1319.6) scale(0.978 1)" style='font-family:"Noto Serif CJK SC", "Liberation Serif", serif;font-weight:200' font-size="120" fill="#FF4040">−</text>
<text x="1667.45" y="1319.6" font-size="120" fill="#FF4040" letter-spacing="-4.665">1007</text>
<line x1="340.4" y1="1386.0" x2="340.4" y2="1399" stroke="#000" stroke-width="9"/>
<line x1="461.7" y1="1373.5" x2="461.7" y2="1399" stroke="#000" stroke-width="9"/>
<line x1="583.0" y1="1386.0" x2="583.0" y2="1399" stroke="#000" stroke-width="9"/>
<line x1="704.3" y1="1373.5" x2="704.3" y2="1399" stroke="#000" stroke-width="9"/>
<line x1="825.6" y1="1386.0" x2="825.6" y2="1399" stroke="#000" stroke-width="9"/>
<line x1="946.9" y1="1373.5" x2="946.9" y2="1399" stroke="#000" stroke-width="9"/>
<line x1="1068.2" y1="1386.0" x2="1068.2" y2="1399" stroke="#000" stroke-width="9"/>
<line x1="1189.5" y1="1373.5" x2="1189.5" y2="1399" stroke="#000" stroke-width="9"/>
<line x1="1310.8" y1="1386.0" x2="1310.8" y2="1399" stroke="#000" stroke-width="9"/>
<line x1="1432.1" y1="1373.5" x2="1432.1" y2="1399" stroke="#000" stroke-width="9"/>
<line x1="1553.4" y1="1386.0" x2="1553.4" y2="1399" stroke="#000" stroke-width="9"/>
<line x1="1674.7" y1="1373.5" x2="1674.7" y2="1399" stroke="#000" stroke-width="9"/>
<line x1="1796.0" y1="1386.0" x2="1796.0" y2="1399" stroke="#000" stroke-width="9"/>
<rect x="219" y="27" width="1698" height="1371.5" fill="none" stroke="#000" stroke-width="10"/>
<path fill="#FF8800" d="M229.5 1223.0V1180.0L234.5 1177.0L239.5 1180.0V1223.0ZM624.6 1223.0V1163.3L629.6 1160.3L634.6 1163.3V1223.0ZM638.5 1223.0V1117.4L643.5 1114.4L648.5 1117.4V1223.0ZM676.7 1223.0V1017.9L681.7 1014.9L686.7 1017.9V1223.0ZM738.5 1223.0V918.3L743.5 915.3L748.5 918.3V1223.0ZM764.9 1223.0V1047.0L769.9 1044.0L774.9 1047.0V1223.0ZM910.8 1223.0V1174.0L915.8 1171.0L920.8 1174.0V1223.0ZM1014.3 1223.0V1186.3L1019.3 1183.3L1024.3 1186.3V1223.0ZM1043.7 1223.0V1180.2L1048.7 1177.2L1053.7 1180.2V1223.0ZM1126.5 1223.0V1132.0L1131.5 1129.0L1136.5 1132.0V1223.0ZM1131.0 1223.0V990.3L1136.0 987.3L1141.0 990.3V1223.0ZM1247.4 1223.0V1103.6L1252.4 1100.6L1257.4 1103.6V1223.0ZM1331.6 1223.0V1192.4L1336.6 1189.4L1341.6 1192.4V1223.0ZM1354.9 1223.0V1180.2L1359.9 1177.2L1364.9 1180.2V1223.0ZM1390.3 1223.0V1157.3L1395.3 1154.3L1400.3 1157.3V1223.0ZM1406.2 1223.0V1103.7L1411.2 1100.7L1416.2 1103.7V1223.0ZM1509.8 1223.0V1186.4L1514.8 1183.4L1519.8 1186.4V1223.0ZM1601.0 1223.0V1186.4L1606.0 1183.4L1611.0 1186.4V1223.0ZM1650.1 1223.0V1180.3L1655.1 1177.3L1660.1 1180.3V1223.0ZM1666.0 1223.0V1186.4L1671.0 1183.4L1676.0 1186.4V1223.0ZM1763.5 1223.0V1174.1L1768.5 1171.1L1773.5 1174.1V1223.0ZM1853.6 1223.0V1186.4L1858.6 1183.4L1863.6 1186.4V1223.0ZM1886.0 1223.0V1174.1L1891.0 1171.1L1896.0 1174.1V1223.0Z"/>
<path fill="#FF4040" d="M645.0 1399.0V1208.0L650.0 1205.0L655.0 1208.0V1399.0ZM754.8 1399.0V1336.4L759.8 1333.4L764.8 1336.4V1399.0ZM1098.2 1399.0V1336.4L1103.2 1333.4L1108.2 1336.4V1399.0ZM1312.6 1399.0V1330.3L1317.6 1327.3L1322.6 1330.3V1399.0ZM1393.4 1399.0V1351.8L1398.4 1348.8L1403.4 1351.8V1399.0ZM1614.0 1399.0V1384.0L1619.0 1381.0L1624.0 1384.0V1399.0ZM1785.5 1399.0V1361.0L1790.5 1358.0L1795.5 1361.0V1399.0ZM1840.7 1399.0V1367.2L1845.7 1364.2L1850.7 1367.2V1399.0Z"/>
<path fill="#009900" d="M680.5 1399.0V1210.0L685.5 1207.0L690.5 1210.0V1399.0ZM774.7 1399.0V1380.8L779.7 1377.8L784.7 1380.8V1399.0ZM1106.5 1399.0V1336.4L1111.5 1333.4L1116.5 1336.4V1399.0ZM1338.6 1399.0V1365.5L1343.6 1362.5L1348.6 1365.5V1399.0ZM1416.4 1399.0V1351.8L1421.4 1348.8L1426.4 1351.8V1399.0ZM1656.2 1399.0V1385.5L1661.2 1382.5L1666.2 1385.5V1399.0ZM1833.0 1399.0V1370.2L1838.0 1367.2L1843.0 1370.2V1399.0ZM1889.7 1399.0V1381.0L1894.7 1378.0L1899.7 1381.0V1399.0Z"/>
<line x1="209" y1="1223" x2="1917" y2="1223" stroke="#000" stroke-width="9"/>
</svg></div></body></html>
